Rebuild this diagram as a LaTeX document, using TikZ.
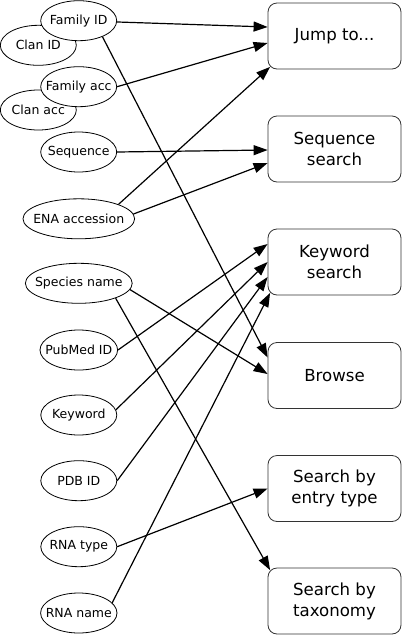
\documentclass[tikz,border=0pt]{standalone}
\usepackage{fontspec}
\setmainfont{DejaVu Sans}
\usetikzlibrary{arrows.meta, shapes.geometric}
\tikzset{src/.style = {ellipse, draw, fill=white, line width=0.8pt, minimum width=76pt, minimum height=40pt, inner xsep=-6pt, inner ysep=0pt, font=\fontsize{12.5}{15}\selectfont}}
\tikzset{dst/.style = {rectangle, draw=black!80, rounded corners=9pt, line width=0.8pt, minimum width=133pt, minimum height=66pt, align=center, font=\fontsize{16.6}{21}\selectfont}}
\tikzset{link/.style = {line width=1.2pt, -{Triangle[length=14pt, width=10pt]}}}

\begin{document}
\begin{tikzpicture}[x=1pt, y=-1pt]
\useasboundingbox (0,0) rectangle (402,635);
\node[dst] (jump) at (334.5,36) {Jump to...};
\node[dst] (seqs) at (334.5,149) {Sequence\\search};
\node[dst] (kws) at (334.5,262) {Keyword\\search};
\node[dst] (browse) at (334.5,375.5) {Browse};
\node[dst] (etype) at (334.5,488.5) {Search by\\entry type};
\node[dst] (tax) at (334.5,601) {Search by\\taxonomy};
\node[src] (cid) at (38.3,45.3) {Clan ID};
\node[src] (fid) at (78.7,20.7) {Family ID};
\node[src] (cacc) at (38.3,110) {Clan acc};
\node[src] (facc) at (78.7,86.7) {Family acc};
\node[src] (seq) at (78.7,152) {Sequence};
\node[src] (ena) at (78.8,218.8) {ENA accession};
\node[src] (spec) at (78.8,283.3) {Species name};
\node[src] (pmid) at (78.8,350) {PubMed ID};
\node[src] (kw) at (78.8,415) {Keyword};
\node[src] (pdb) at (78.8,480.7) {PDB ID};
\node[src] (rtype) at (78.8,546.7) {RNA type};
\node[src] (rname) at (78.8,613) {RNA name};
\draw[link] (fid) -- ([yshift=9pt]jump.west);
\draw[link] (facc.east) -- ([yshift=-7pt]jump.west);
\draw[link] (ena.20) -- ([xshift=2.5pt,yshift=2.5pt]jump.south west);
\draw[link] (fid.-34) -- ([yshift=18pt]browse.west);
\draw[link] (seq.east) -- ([yshift=-1pt]seqs.west);
\draw[link] (ena.5) -- ([yshift=-14pt]seqs.west);
\draw[link] (pmid.east) -- ([yshift=18pt]kws.west);
\draw[link] (kw.8) -- (kws.west);
\draw[link] (pdb.east) -- ([yshift=-15pt]kws.west);
\draw[link] (rname.17) -- ([xshift=2.5pt,yshift=2.5pt]kws.south west);
\draw[link] (spec.-7) -- ([yshift=1.5pt]browse.west);
\draw[link] (spec.-22) -- ([xshift=2.5pt,yshift=-2.5pt]tax.north west);
\draw[link] (rtype.east) -- (etype.west);
\end{tikzpicture}
\end{document}
